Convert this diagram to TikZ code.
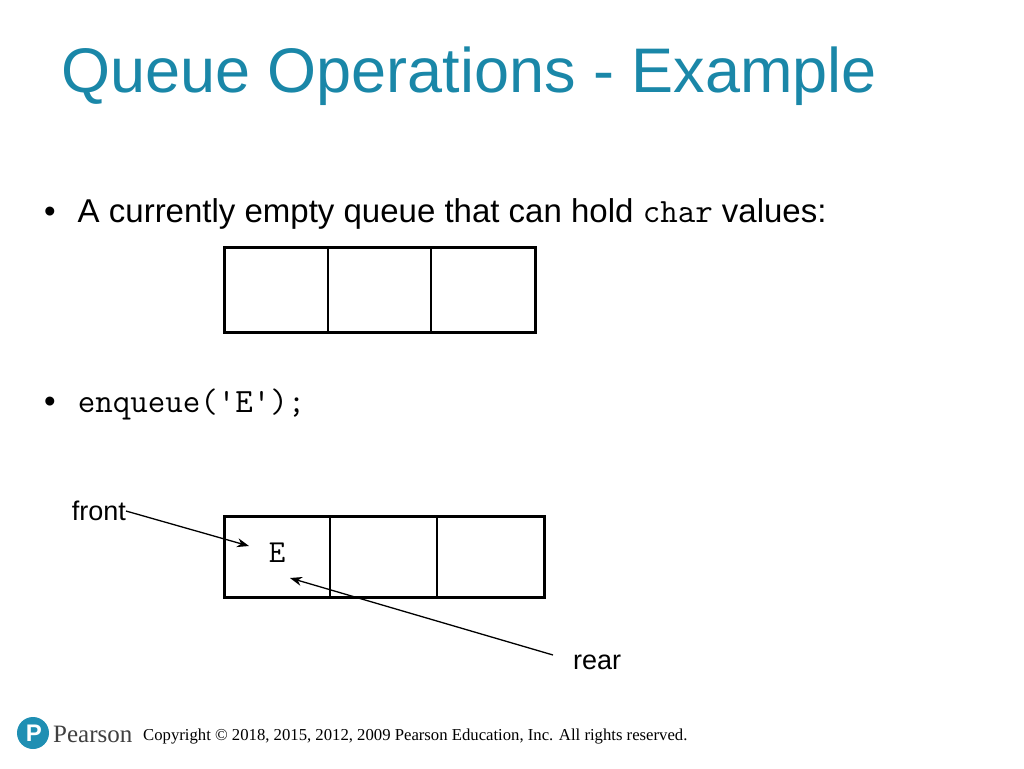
\documentclass[tikz,border=0pt]{standalone}
\usepackage{fontspec}
\setmainfont{Liberation Sans}
\newfontfamily\courierf{Latin Modern Mono}
\newfontfamily\timesf{Liberation Serif}
\usetikzlibrary{arrows.meta}
\definecolor{ttl}{HTML}{1A87A8}
\definecolor{logo}{HTML}{1F8FB3}
\begin{document}
\begin{tikzpicture}[x=1pt,y=-1pt,
  outer/.style={line width=3pt},
  inner/.style={line width=1.4pt},
  ptr/.style={line width=1.3pt,-{Stealth[length=12pt,width=9pt]}},
  lbl/.style={font=\fontsize{27}{28}\selectfont,inner sep=0pt}]
\useasboundingbox (0,0) rectangle (1024,768);
\node[anchor=west,text=ttl,font=\fontsize{63}{66}\selectfont,inner sep=0pt] (title) at (61,76) {Queue Operations - Example};
\node[anchor=west,font=\fontsize{33}{36}\selectfont,inner sep=0pt] (b1) at (44,214) {•\hspace{22pt}A currently empty queue that can hold {\courierf\fontsize{34}{36}\selectfont char} values:};
\node[anchor=west,font=\fontsize{33}{36}\selectfont,inner sep=0pt] (b2) at (44,404) {•\hspace{22pt}{\courierf\fontsize{34}{36}\selectfont enqueue('E');}};
% box 1
\draw[inner] (328,247) -- (328,332) (431,247) -- (431,332);
\draw[outer] (224,247) rectangle (535,332);
% box 2
\draw[inner] (330,516) -- (330,597) (437,516) -- (437,597);
\draw[outer] (224,516) rectangle (544,597);
\node[font=\courierf\fontsize{32}{32}\selectfont] (e) at (277,553) {E};
\node[lbl,anchor=east] (front) at (126,511) {front};
\node[lbl,anchor=west] (rear) at (573,662) {rear};
\coordinate (fa) at (249,546);
\coordinate (ra) at (290,578);
\draw[ptr] (front.east) -- (fa);
\draw[ptr] (553,655) -- (ra);
% footer
\fill[logo] (33,733) circle (16);
\node[text=white,font=\bfseries\fontsize{24}{24}\selectfont] (p) at (34,733) {P};
\node[anchor=west,font=\timesf\fontsize{25}{26}\selectfont,text=black!75,inner sep=0pt] (pearson) at (53,734) {Pearson};
\node[anchor=west,font=\timesf\fontsize{16.7}{17}\selectfont,inner sep=0pt] (copy) at (143,736) {Copyright © 2018, 2015, 2012, 2009 Pearson Education, Inc. All rights reserved.};
\end{tikzpicture}
\end{document}
